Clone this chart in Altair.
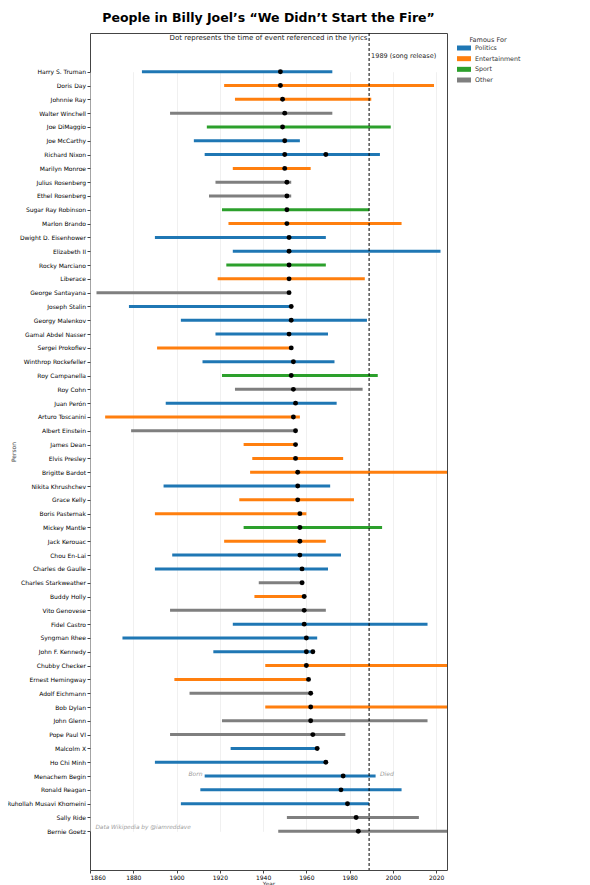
import altair as alt
import pandas as pd

names = [
    "Harry S. Truman", "Doris Day", "Johnnie Ray", "Walter Winchell", "Joe DiMaggio",
    "Joe McCarthy", "Richard Nixon", "Marilyn Monroe", "Julius Rosenberg", "Ethel Rosenberg",
    "Sugar Ray Robinson", "Marlon Brando", "Dwight D. Eisenhower", "Elizabeth II", "Rocky Marciano",
    "Liberace", "George Santayana", "Joseph Stalin", "Georgy Malenkov", "Gamal Abdel Nasser",
    "Sergei Prokofiev", "Winthrop Rockefeller", "Roy Campanella", "Roy Cohn", "Juan Perón",
    "Arturo Toscanini", "Albert Einstein", "James Dean", "Elvis Presley", "Brigitte Bardot",
    "Nikita Khrushchev", "Grace Kelly", "Boris Pasternak", "Mickey Mantle", "Jack Kerouac",
    "Chou En-Lai", "Charles de Gaulle", "Charles Starkweather", "Buddy Holly", "Vito Genovese",
    "Fidel Castro", "Syngman Rhee", "John F. Kennedy", "Chubby Checker", "Ernest Hemingway",
    "Adolf Eichmann", "Bob Dylan", "John Glenn", "Pope Paul VI", "Malcolm X",
    "Ho Chi Minh", "Menachem Begin", "Ronald Reagan", "Ruhollah Musavi Khomeini", "Sally Ride",
    "Bernie Goetz",
]
category = [
    "Politics", "Entertainment", "Entertainment", "Other", "Sport",
    "Politics", "Politics", "Entertainment", "Other", "Other",
    "Sport", "Entertainment", "Politics", "Politics", "Sport",
    "Entertainment", "Other", "Politics", "Politics", "Politics",
    "Entertainment", "Politics", "Sport", "Other", "Politics",
    "Entertainment", "Other", "Entertainment", "Entertainment", "Entertainment",
    "Politics", "Entertainment", "Entertainment", "Sport", "Entertainment",
    "Politics", "Politics", "Other", "Entertainment", "Other",
    "Politics", "Politics", "Politics", "Entertainment", "Entertainment",
    "Other", "Entertainment", "Other", "Other", "Politics",
    "Politics", "Politics", "Politics", "Politics", "Other",
    "Other",
]
born = [
    1884, 1922, 1927, 1897, 1914,
    1908, 1913, 1926, 1918, 1915,
    1921, 1924, 1890, 1926, 1923,
    1919, 1863, 1878, 1902, 1918,
    1891, 1912, 1921, 1927, 1895,
    1867, 1879, 1931, 1935, 1934,
    1894, 1929, 1890, 1931, 1922,
    1898, 1890, 1938, 1936, 1897,
    1926, 1875, 1917, 1941, 1899,
    1906, 1941, 1921, 1897, 1925,
    1890, 1913, 1911, 1902, 1951,
    1947,
]
# 2025 = still alive, drawn to the edge of the axis
died = [
    1972, 2019, 1990, 1972, 1999,
    1957, 1994, 1962, 1953, 1953,
    1989, 2004, 1969, 2022, 1969,
    1987, 1952, 1953, 1988, 1970,
    1953, 1973, 1993, 1986, 1974,
    1957, 1955, 1955, 1977, 2025,
    1971, 1982, 1960, 1995, 1969,
    1976, 1970, 1959, 1959, 1969,
    2016, 1965, 1963, 2025, 1961,
    1962, 2025, 2016, 1978, 1965,
    1969, 1992, 2004, 1989, 2012,
    2025,
]
event_year = [
    1948, 1948, 1949, 1950, 1949,
    1950, 1950, 1950, 1951, 1951,
    1951, 1951, 1952, 1952, 1952,
    1952, 1952, 1953, 1953, 1952,
    1953, 1954, 1953, 1954, 1955,
    1954, 1955, 1955, 1955, 1956,
    1956, 1956, 1957, 1957, 1957,
    1957, 1958, 1958, 1959, 1959,
    1959, 1960, 1960, 1960, 1961,
    1962, 1962, 1962, 1963, 1965,
    1969, 1977, 1976, 1979, 1983,
    1984,
]
second_event_person = ["Richard Nixon", "John F. Kennedy"]
second_event_year = [1969, 1963]

cat_order = ["Politics", "Entertainment", "Sport", "Other"]
cat_colors = ["#1f77b4", "#ff7f0e", "#2ca02c", "#7f7f7f"]

people = pd.DataFrame({"name": names, "category": category, "born": born, "died": died})
events = pd.concat([
    pd.DataFrame({"name": names, "event": event_year}),
    pd.DataFrame({"name": second_event_person, "event": second_event_year}),
], ignore_index=True)
legend_df = pd.DataFrame({"category": cat_order})

FONT = "DejaVu Sans"
x_scale = alt.Scale(domain=[1860, 2025], nice=False, zero=False)
# leave ~2.8 rows of empty space above the first and below the last person
y_scale = alt.Scale(type="point", padding=0, range=[38.7, 798.3])
color_scale = alt.Scale(domain=cat_order, range=cat_colors)

y_axis = alt.Axis(
    title="Person", labelFontSize=6.0, labelColor="black", tickSize=3, tickColor="#444",
    labelPadding=1.5, domain=False, grid=False, titleFontSize=6, titleFontWeight="normal",
    titleColor="#444", titleX=-74,
)
x_axis = alt.Axis(
    title="Year", values=list(range(1860, 2021, 20)), format="d", labelFontSize=6,
    labelColor="black", tickSize=3, tickColor="#444", domain=False, grid=True,
    gridColor="#e6e6e6", gridWidth=0.6, labelPadding=1, titleFontSize=5.8,
    titleFontWeight="normal", titleColor="#333", titlePadding=0,
)

lines = alt.Chart(people).mark_rule(strokeWidth=3, strokeCap="butt").encode(
    x=alt.X("born:Q", scale=x_scale, axis=x_axis),
    x2="died:Q",
    y=alt.Y("name:N", sort=names, scale=y_scale, axis=y_axis),
    color=alt.Color("category:N", scale=color_scale, legend=None),
)

dots = alt.Chart(events).mark_circle(size=24, color="black", opacity=1).encode(
    x=alt.X("event:Q", scale=x_scale),
    y=alt.Y("name:N", sort=names, scale=y_scale),
)

release = alt.Chart().mark_rule(color="black", strokeDash=[3, 2], strokeWidth=1).encode(
    x=alt.datum(1989)
)
release_text = alt.Chart().mark_text(
    text="1989 (song release)", align="left", baseline="middle", dx=2, fontSize=6.5, color="#222"
).encode(x=alt.datum(1989), y=alt.value(23))

subtitle = alt.Chart().mark_text(
    text="Dot represents the time of event referenced in the lyrics", align="center",
    baseline="middle", fontSize=7, color="#222"
).encode(x=alt.value(178.5), y=alt.value(5))

born_note = alt.Chart(pd.DataFrame({"name": ["Menachem Begin"], "year": [1912], "t": ["Born"]})).mark_text(
    align="right", baseline="middle", dy=-2, fontSize=6, fontStyle="italic", color="#9a9a9a"
).encode(x=alt.X("year:Q", scale=x_scale), y=alt.Y("name:N", sort=names, scale=y_scale), text="t:N")

died_note = alt.Chart(pd.DataFrame({"name": ["Menachem Begin"], "year": [1994], "t": ["Died"]})).mark_text(
    align="left", baseline="middle", dy=-2, fontSize=6, fontStyle="italic", color="#9a9a9a"
).encode(x=alt.X("year:Q", scale=x_scale), y=alt.Y("name:N", sort=names, scale=y_scale), text="t:N")

credit = alt.Chart(pd.DataFrame({"name": ["Bernie Goetz"], "year": [1862.5], "t": ["Data Wikipedia by @iamreddave"]})).mark_text(
    align="left", baseline="middle", dy=-4, fontSize=5.8, fontStyle="italic", color="#a0a0a0"
).encode(x=alt.X("year:Q", scale=x_scale), y=alt.Y("name:N", sort=names, scale=y_scale), text="t:N")

# legend ("Famous For") drawn to the right of the plot
legend_y = alt.Y("category:N", sort=cat_order,
                 scale=alt.Scale(type="point", domain=cat_order, padding=0, range=[15, 47]),
                 axis=None)
legend_swatch = alt.Chart(legend_df).mark_rule(strokeWidth=5, strokeCap="butt").encode(
    x=alt.value(367), x2=alt.value(381), y=legend_y,
    color=alt.Color("category:N", scale=color_scale, legend=None),
)
legend_label = alt.Chart(legend_df).mark_text(
    align="left", baseline="middle", fontSize=6.3, color="#333", dx=0
).encode(x=alt.value(385), y=legend_y, text="category:N")
legend_title = alt.Chart().mark_text(
    text="Famous For", align="center", baseline="middle", fontSize=6.5, color="#333"
).encode(x=alt.value(398), y=alt.value(7))

main = alt.layer(lines, release, dots, release_text, subtitle, born_note, died_note, credit)
legend = alt.layer(legend_swatch, legend_label, legend_title)

chart = alt.layer(main, legend).resolve_scale(y="independent").properties(
    width=357,
    height=837,
    title=alt.TitleParams(
        "People in Billy Joel’s “We Didn’t Start the Fire”",
        fontSize=12.5, fontWeight="bold", font=FONT, anchor="middle", offset=8, color="black",
    ),
    autosize=alt.AutoSizeParams(type="none"),
    padding={"left": 82, "top": 25, "right": 130, "bottom": 20},
).configure(
    font=FONT,
).configure_view(
    stroke="#444", strokeWidth=1,
)

chart.save("out.html", embed_options={"renderer": "svg", "actions": False})
